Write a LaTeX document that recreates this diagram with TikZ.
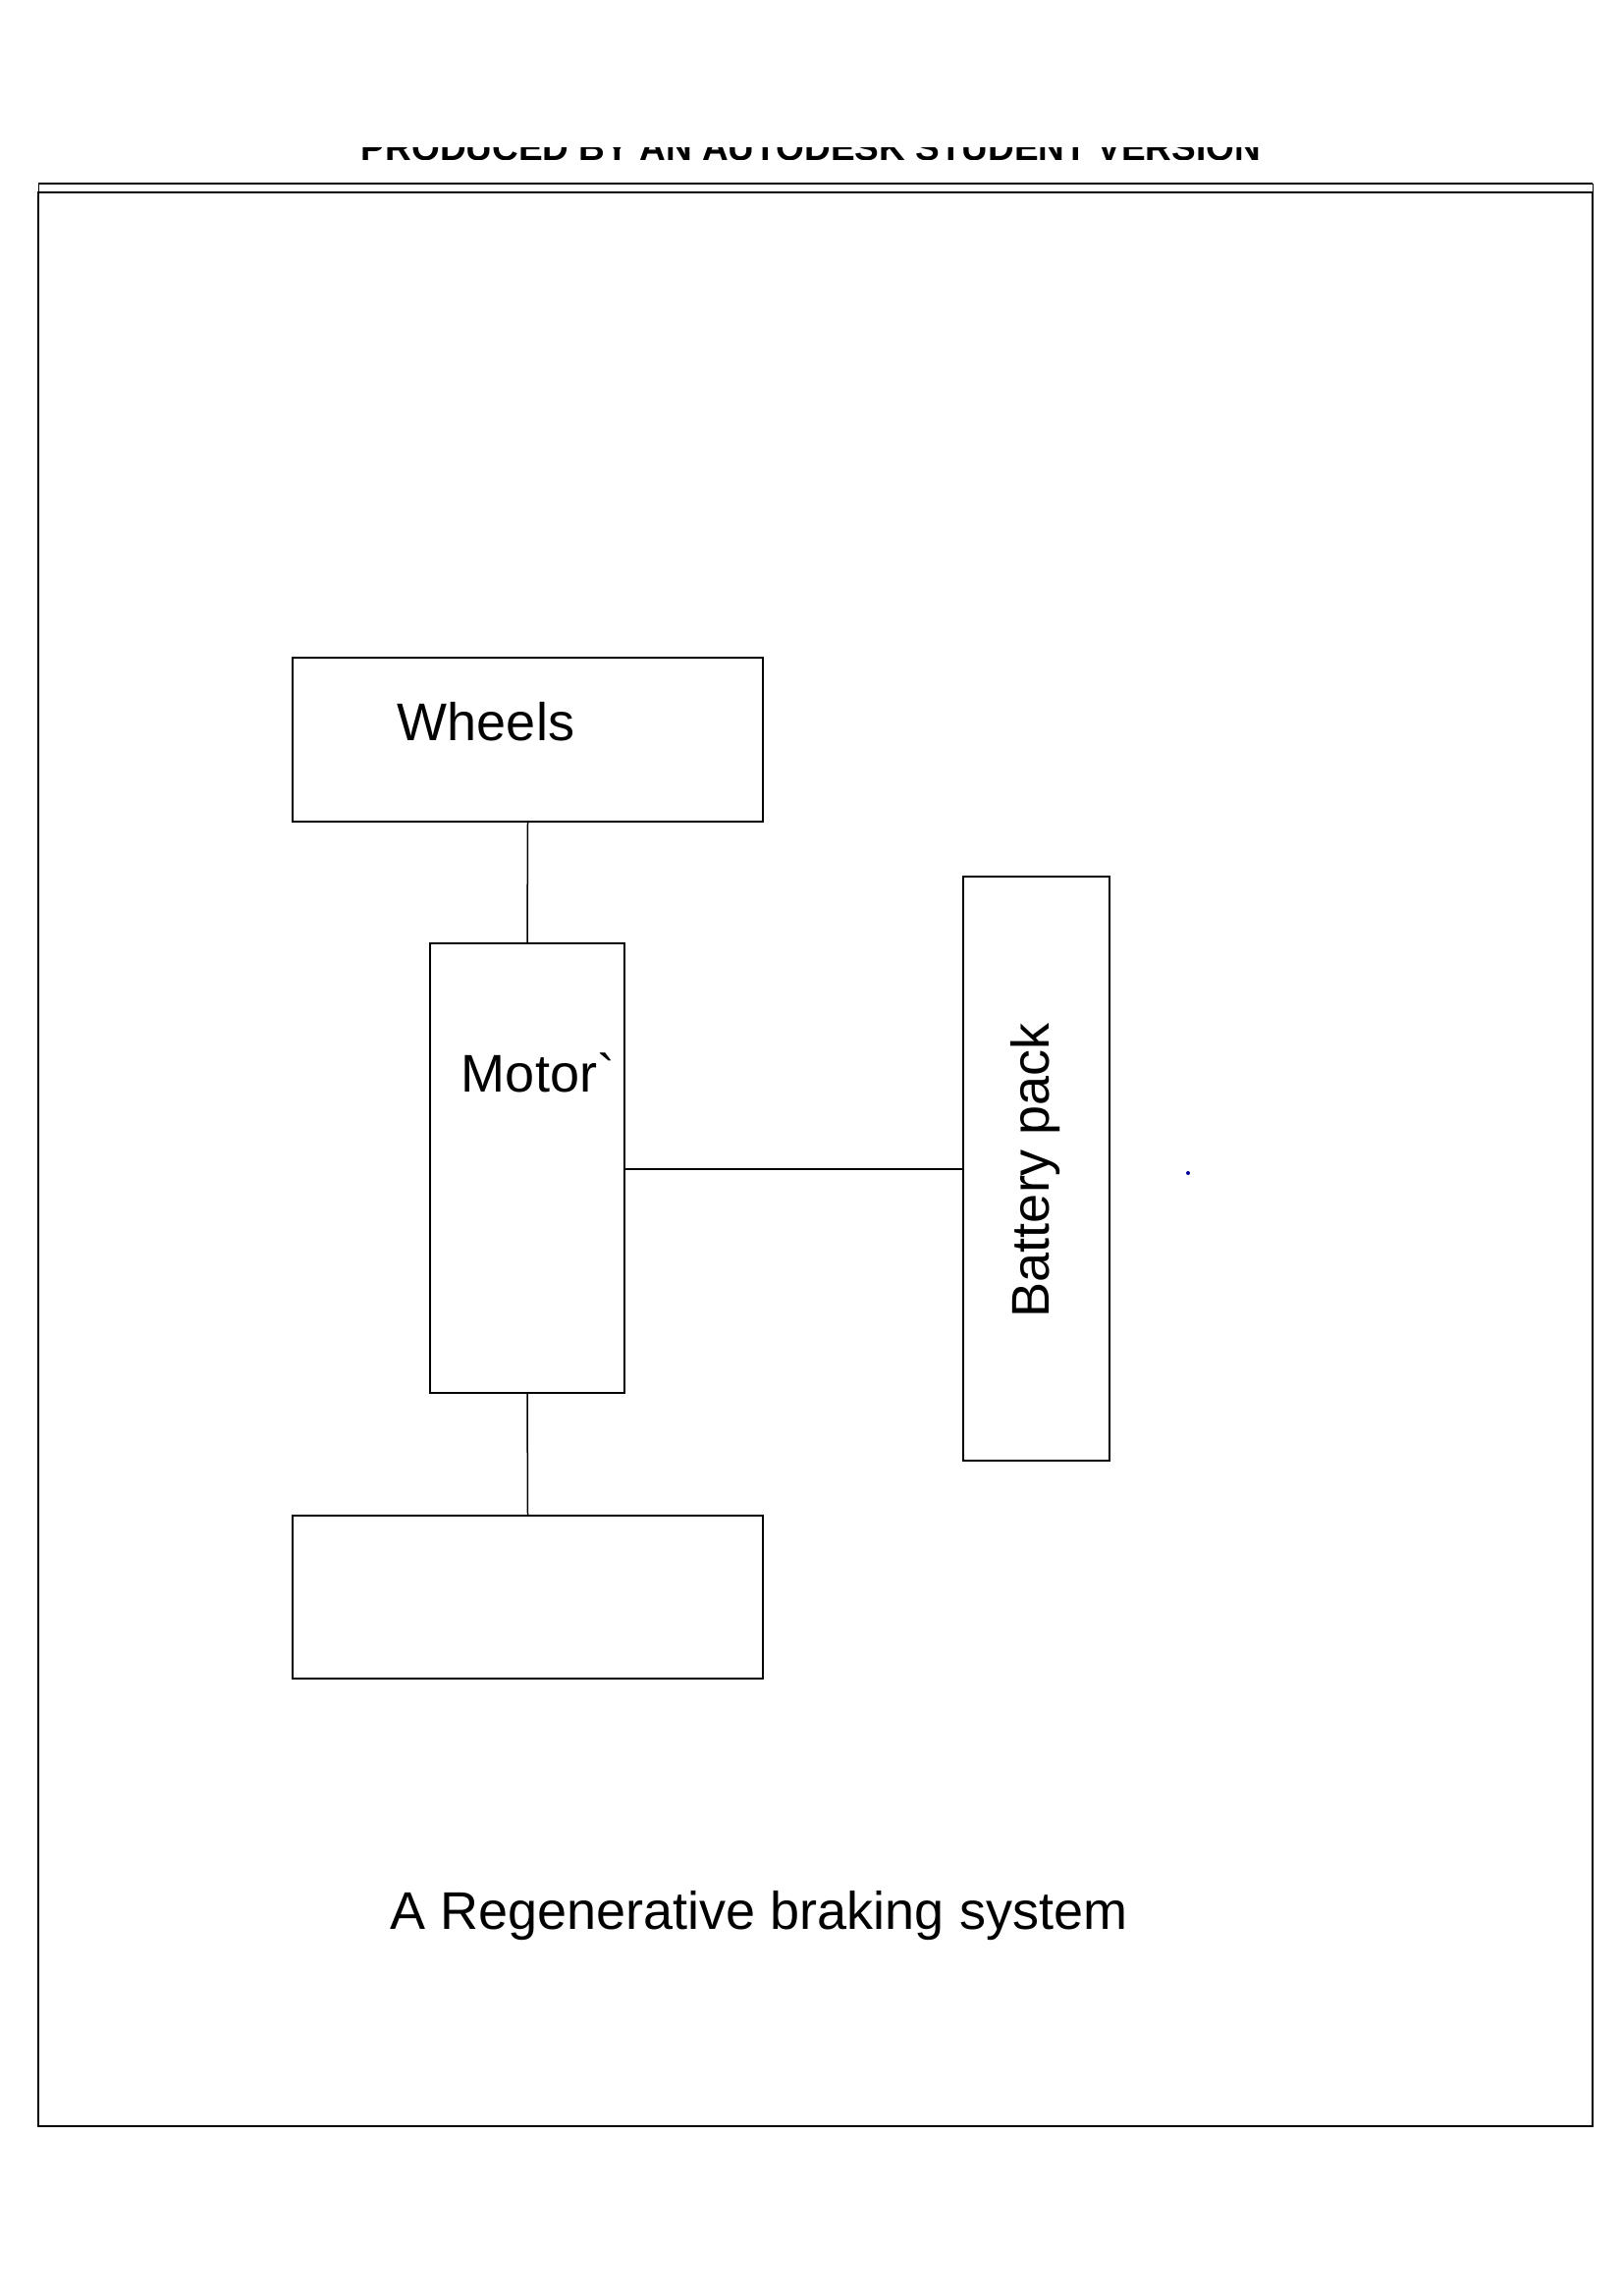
\documentclass[tikz,border=0pt]{standalone}
\usepackage{fontspec}
\setmainfont{Liberation Sans}
\begin{document}
\begin{tikzpicture}[x=1pt,y=-1pt,
  blk/.style={draw,line width=1.5pt,inner sep=0pt},
  lbl/.style={font=\fontsize{54}{60}\selectfont,inner sep=0pt},
  wire/.style={line width=1.5pt}]
\useasboundingbox (0,0) rectangle (1653,2339);
\begin{scope}
\clip (0,150) rectangle (1653,162);
\node[font=\fontsize{37}{40}\selectfont\bfseries,anchor=base] (wm) at (826,163) {PRODUCED BY AN AUTODESK STUDENT VERSION};
\end{scope}
\draw[line width=2pt] (39,187) -- (1622,187);
\draw[line width=2pt] (39,196) rectangle (1622,2166);
\draw[line width=1pt] (39,187) -- (39,196) (1622,187) -- (1622,196);
\node[blk,minimum width=479pt,minimum height=167pt] (wheels) at (537.5,753.5) {};
\node[lbl] (wt) at (495,735) {Wheels};
\node[blk,minimum width=198pt,minimum height=458pt] (motor) at (537,1190) {};
\node[lbl] (mt) at (548,1093) {Motor\textasciigrave};
\node[blk,minimum width=149pt,minimum height=595pt] (batt) at (1055.5,1190.5) {};
\node[lbl,rotate=90] (bt) at (1055,1192) {Battery pack};
\node[blk,minimum width=479pt,minimum height=166pt] (low) at (537.5,1627) {};
\draw[wire] (wheels.south) -- (motor.north);
\draw[wire] (motor.south) -- (low.north);
\draw[wire] (motor.east |- 0,1191) -- (batt.west |- 0,1191);
\node[lbl] (cap) at (773,1952) {A Regenerative braking system};
\fill[blue!60!black] (1210,1195) circle (2pt);
\end{tikzpicture}
\end{document}
